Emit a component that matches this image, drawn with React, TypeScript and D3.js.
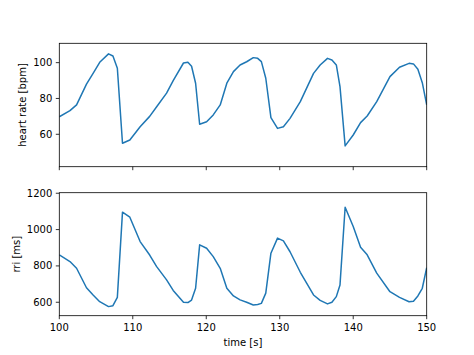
import React from "react";
import * as d3 from "d3";

const times = [100, 101.45, 102.35, 103.7, 104.6, 105.5, 106.7, 107.3, 107.9, 108.6, 109.6, 111.0, 112.3, 113.25, 114.6, 115.5, 116.9, 117.5, 118.0, 118.55, 119.1, 120.05, 120.95, 121.9, 122.8, 123.7, 124.6, 125.5, 126.4, 127.0, 127.5, 128.1, 128.8, 129.7, 130.5, 131.4, 132.8, 134.6, 135.5, 136.5, 137.1, 137.7, 138.2, 138.9, 140.0, 141.0, 141.9, 143.2, 145.0, 146.3, 147.6, 148.2, 148.8, 149.4, 150];
const heartRate = [69.8, 73.2, 76.4, 88, 94, 100.2, 104.9, 103.7, 96.9, 55, 56.8, 64.2, 70, 75.4, 83, 90, 99.8, 100.2, 98, 88.5, 65.6, 67, 70.8, 76.4, 88.5, 95, 98.7, 100.5, 102.8, 102.4, 100.6, 91.3, 69.3, 63.3, 64.2, 68.9, 78.2, 94, 98.7, 102.4, 101.5, 98.7, 86.6, 53.5, 59.6, 66.5, 70.2, 78.2, 92.2, 97.4, 99.6, 99.3, 96.3, 88.8, 76.4];
const rri = [861, 824, 787, 680, 640, 603, 576, 581, 627, 1096, 1068, 934, 860, 796, 723, 665, 600, 598, 612, 677, 916, 897, 851, 787, 677, 635, 613, 600, 585, 588, 594, 650, 870, 953, 938, 878, 765, 640, 610, 591, 600, 631, 695, 1123, 1017, 903, 861, 760, 658, 627, 603, 606, 635, 677, 790];

const xTicks = [100, 110, 120, 130, 140, 150];
const hrTicks = [60, 80, 100];
const rriTicks = [600, 800, 1000, 1200];

const W = 474, H = 355;
const left = 59.3, right = 426.7;
const top1 = 43.3, bot1 = 166.7;
const top2 = 192.7, bot2 = 315.7;
const FONT = "DejaVu Sans, sans-serif";
const LINE = "#1f77b4";

export default function App() {
  const x = d3.scaleLinear().domain([100, 150]).range([left, right]);
  const y1 = d3.scaleLinear().domain([41.9, 110.8]).range([bot1, top1]);
  const y2 = d3.scaleLinear().domain([526, 1203]).range([bot2, top2]);
  const pts1 = times.map((t, i) => [t, heartRate[i]] as [number, number]);
  const pts2 = times.map((t, i) => [t, rri[i]] as [number, number]);
  const line1 = d3.line<[number, number]>().x(d => x(d[0])).y(d => y1(d[1]));
  const line2 = d3.line<[number, number]>().x(d => x(d[0])).y(d => y2(d[1]));

  const panel = (
    top: number,
    bot: number,
    y: d3.ScaleLinear<number, number>,
    yTicks: number[],
    path: string,
    label: string,
    labelX: number,
    showX: boolean,
    clipId: string
  ) => (
    <g>
      <defs>
        <clipPath id={clipId}>
          <rect x={left} y={top} width={right - left} height={bot - top} />
        </clipPath>
      </defs>
      <path d={path} fill="none" stroke={LINE} strokeWidth={1.5} clipPath={`url(#${clipId})`} strokeLinejoin="round" />
      <rect x={left} y={top} width={right - left} height={bot - top} fill="none" stroke="#000" strokeWidth={0.8} />
      {xTicks.map(t => (
        <g key={"x" + t}>
          <line x1={x(t)} x2={x(t)} y1={bot} y2={bot + 3.5} stroke="#000" strokeWidth={0.8} />
          {showX && (
            <text x={x(t)} y={bot + 15} textAnchor="middle" fontSize={10} fontFamily={FONT} fill="#000">{t}</text>
          )}
        </g>
      ))}
      {yTicks.map(v => (
        <g key={"y" + v}>
          <line x1={left - 3.5} x2={left} y1={y(v)} y2={y(v)} stroke="#000" strokeWidth={0.8} />
          <text x={left - 7} y={y(v)} dy="0.35em" textAnchor="end" fontSize={10} fontFamily={FONT} fill="#000">{v}</text>
        </g>
      ))}
      <text transform={`translate(${labelX},${(top + bot) / 2}) rotate(-90)`} textAnchor="middle" dy="0.35em" fontSize={10} fontFamily={FONT} fill="#000">{label}</text>
    </g>
  );

  return (
    <svg width={W} height={H} style={{ position: "absolute", left: 0, top: 0, background: "#fff" }}>
      <rect width={W} height={H} fill="#fff" />
      {panel(top1, bot1, y1, hrTicks, line1(pts1) || "", "heart rate [bpm]", 22, false, "c1")}
      {panel(top2, bot2, y2, rriTicks, line2(pts2) || "", "rri [ms]", 16, true, "c2")}
      <text x={(left + right) / 2} y={346} textAnchor="middle" fontSize={10} fontFamily={FONT} fill="#000">time [s]</text>
    </svg>
  );
}
